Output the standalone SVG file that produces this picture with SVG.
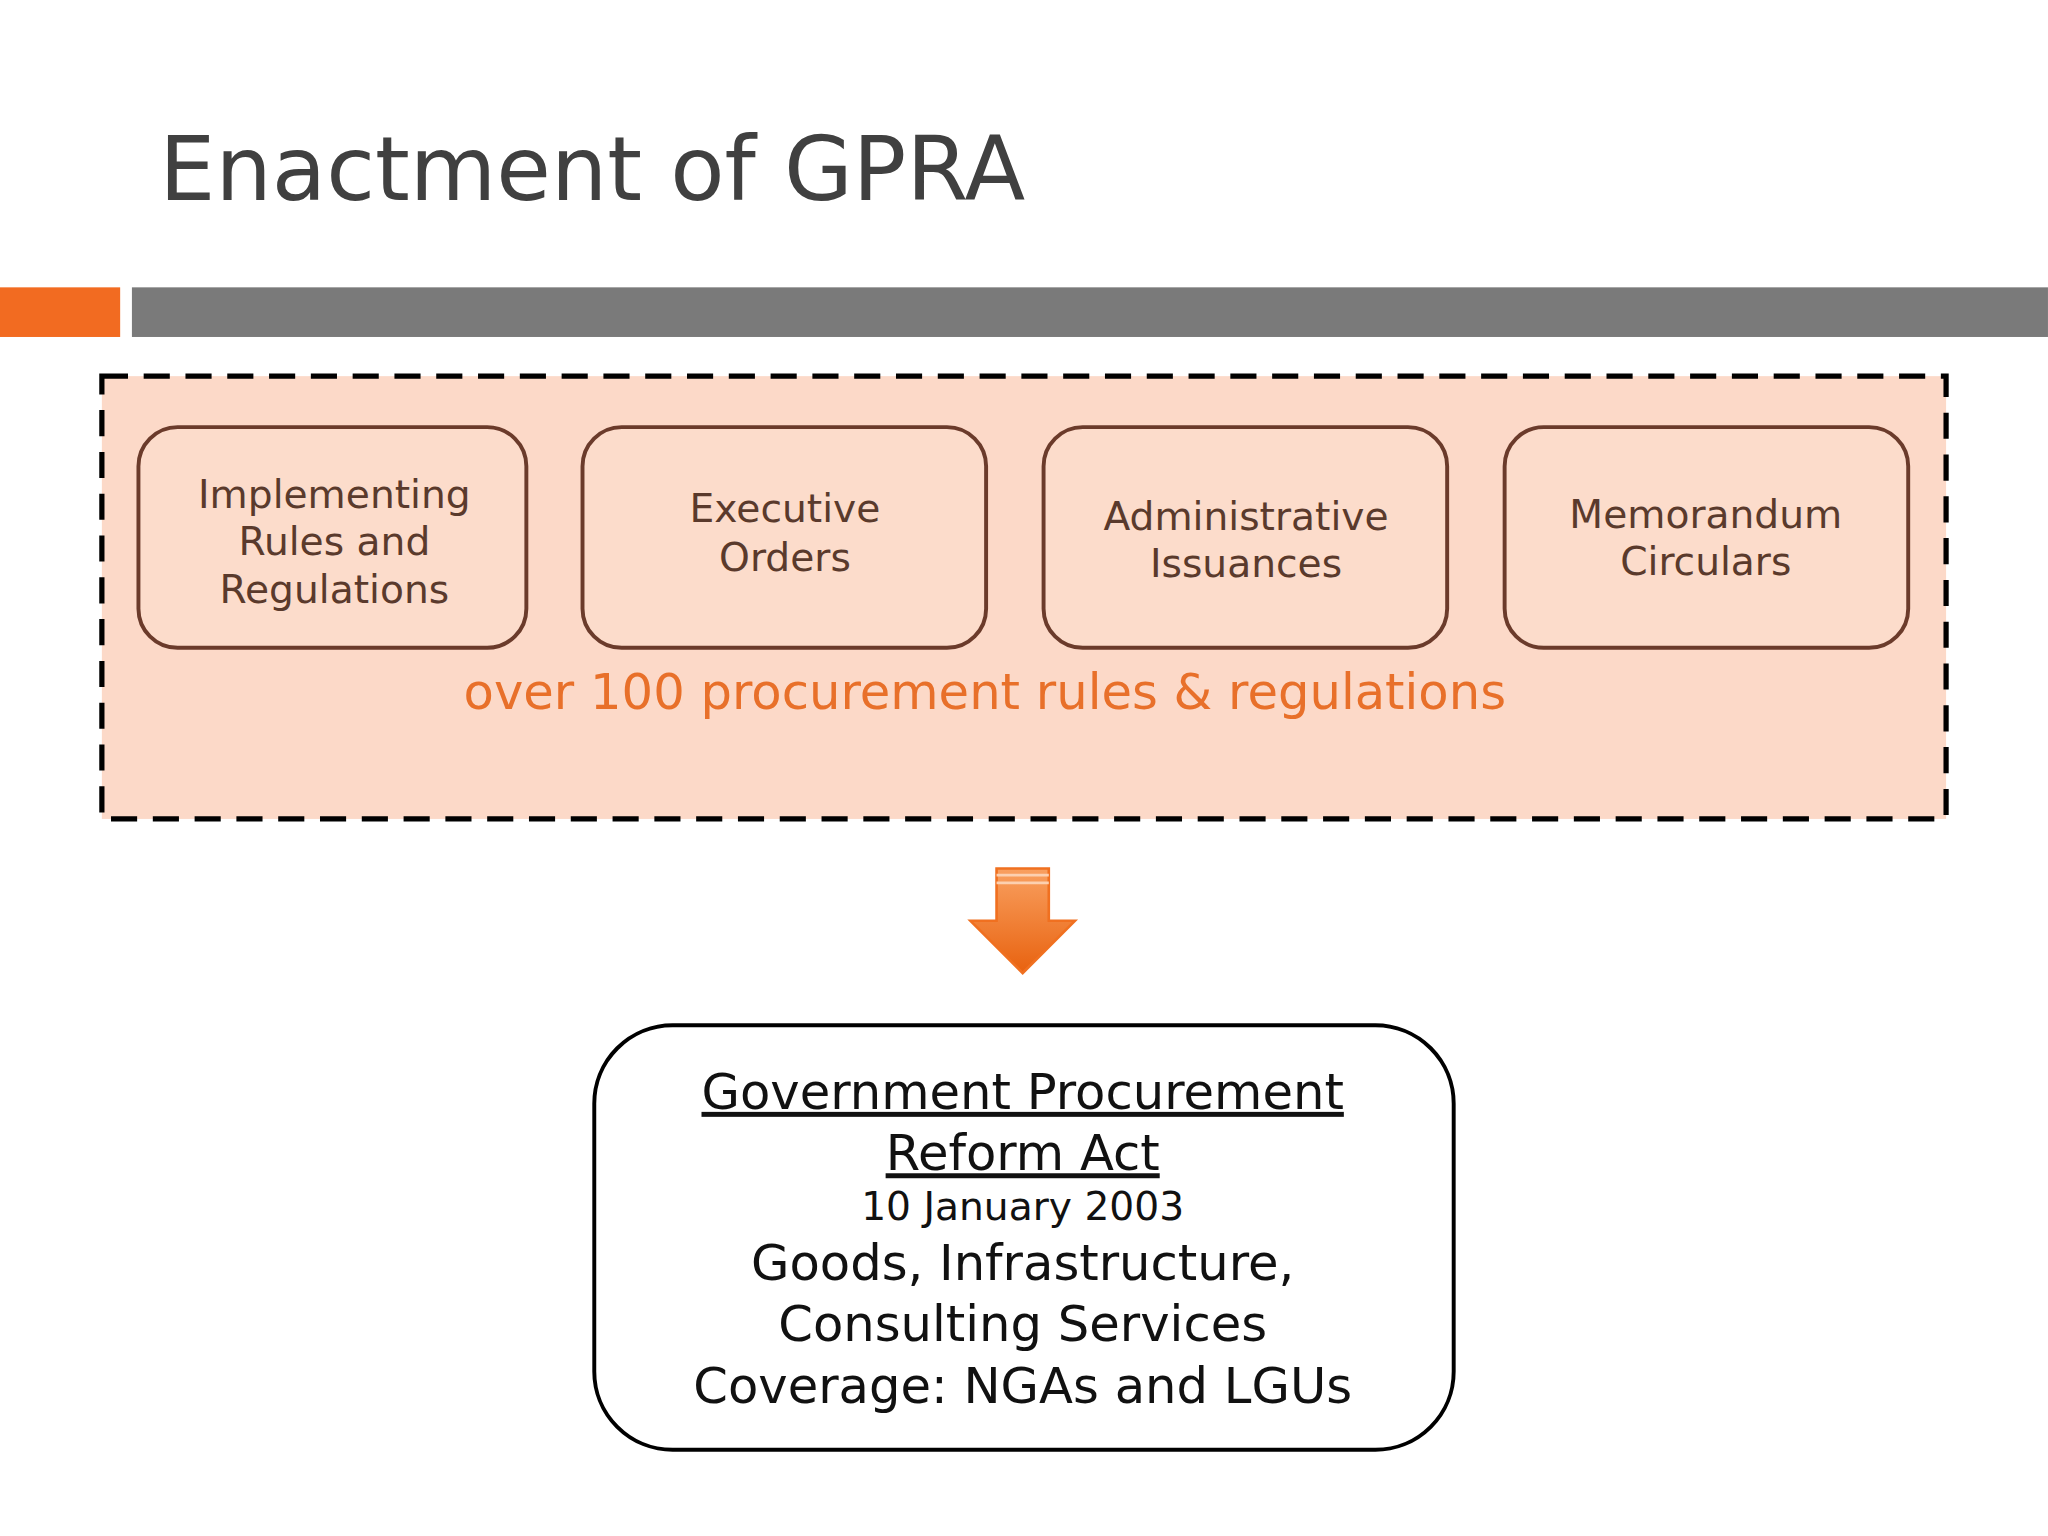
<svg xmlns="http://www.w3.org/2000/svg" width="2048" height="1536" viewBox="0 0 2048 1536">
<defs>
<style>
.t{font-family:"DejaVu Sans",Verdana,sans-serif;text-anchor:middle}
.sm{font-size:30px;fill:#5a3a2c}
.bx{fill:#fcdccb;stroke:#6b3b2b;stroke-width:3}
.bl{font-size:38px;fill:#111}
</style>
<linearGradient id="ag" x1="0" y1="0" x2="0" y2="1">
<stop offset="0" stop-color="#f9a060"/><stop offset="1" stop-color="#e8620f"/>
</linearGradient>
</defs>
<rect width="2048" height="1536" fill="#fff"/>
<g transform="scale(1.3061)">
<g id="title"><text x="122" y="153" font-family="DejaVu Sans,Verdana,sans-serif" font-size="68" fill="#404040">Enactment of GPRA</text></g>
<g id="bars"><rect x="0" y="220" width="92" height="38" fill="#f26b21"/><rect x="101" y="220" width="1467" height="38" fill="#7a7a7a"/></g>
<g id="group"><rect x="78" y="288" width="1412" height="339" fill="#fcd9c8" stroke="#000" stroke-width="4" stroke-dasharray="20 12"/>
<text class="t" x="754" y="543" font-size="38" fill="#e8702a">over 100 procurement rules &amp; regulations</text></g>
<g id="n1"><rect class="bx" x="106" y="327" width="297" height="169" rx="30"/><text class="t sm"><tspan x="256" y="389">Implementing</tspan><tspan x="256" y="425">Rules and</tspan><tspan x="256" y="462">Regulations</tspan></text></g>
<g id="n2"><rect class="bx" x="446" y="327" width="309" height="169" rx="30"/><text class="t sm"><tspan x="601" y="400">Executive</tspan><tspan x="601" y="437">Orders</tspan></text></g>
<g id="n3"><rect class="bx" x="799" y="327" width="309" height="169" rx="30"/><text class="t sm"><tspan x="954" y="406">Administrative</tspan><tspan x="954" y="442">Issuances</tspan></text></g>
<g id="n4"><rect class="bx" x="1152" y="327" width="309" height="169" rx="30"/><text class="t sm"><tspan x="1306" y="404">Memorandum</tspan><tspan x="1306" y="440">Circulars</tspan></text></g>
<g id="connectors"><path d="M763 665 H803 V705 H823 L783 745 L743 705 H763 Z" fill="url(#ag)" stroke="#f07020" stroke-width="2"/>
<line x1="763" y1="670" x2="803" y2="670" stroke="#fcd0b0" stroke-width="2"/><line x1="763" y1="676" x2="803" y2="676" stroke="#fcd0b0" stroke-width="2"/></g>
<g id="gpra"><rect x="455" y="785" width="658" height="325" rx="60" fill="#fff" stroke="#000" stroke-width="3"/>
<text class="t bl" x="783" y="849" text-decoration="underline">Government Procurement</text>
<text class="t bl" x="783" y="896" text-decoration="underline">Reform Act</text>
<text class="t" x="783" y="934" font-size="30" fill="#111">10 January 2003</text>
<text class="t bl" x="783" y="980">Goods, Infrastructure,</text>
<text class="t bl" x="783" y="1027">Consulting Services</text>
<text class="t bl" x="783" y="1074">Coverage: NGAs and LGUs</text></g>
</g>
</svg>
